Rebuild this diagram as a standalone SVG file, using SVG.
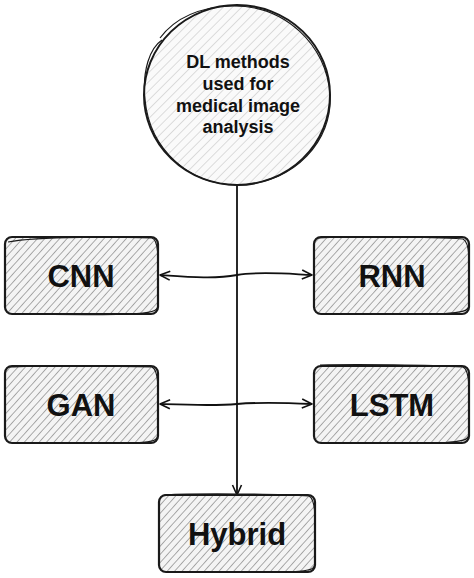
<svg xmlns="http://www.w3.org/2000/svg" width="474" height="578" viewBox="0 0 474 578">
<defs>
<pattern id="hatch" patternUnits="userSpaceOnUse" width="5.5" height="5.5" patternTransform="rotate(42)">
<rect width="5.5" height="5.5" fill="#f4f4f4"/>
<line x1="0" y1="0" x2="0" y2="5.5" stroke="#8a8a8a" stroke-width="1.4"/>
</pattern>
<pattern id="hatchc" patternUnits="userSpaceOnUse" width="6.5" height="6.5" patternTransform="rotate(45)">
<rect width="6.5" height="6.5" fill="#fafafa"/>
<line x1="0" y1="0" x2="0" y2="6.5" stroke="#bdbdbd" stroke-width="1"/>
</pattern>
<marker id="chev" viewBox="0 0 12 12" refX="11" refY="6" markerWidth="12" markerHeight="12" markerUnits="userSpaceOnUse" orient="auto-start-reverse">
<path d="M1,1.5 L11,6 L1,10.5" fill="none" stroke="#111" stroke-width="1.6" stroke-linejoin="round"/>
</marker>
</defs>
<style>
.box{fill:url(#hatch);stroke:#1a1a1a;stroke-width:2.2}
.sk{fill:none;stroke:#1a1a1a;stroke-width:1.2}
.lbl{font-family:"Liberation Sans",Arial,sans-serif;font-weight:bold;font-size:31px;fill:#111;text-anchor:middle}
.ctext{font-family:"Liberation Sans",Arial,sans-serif;font-weight:bold;font-size:18px;fill:#111;text-anchor:middle}
.conn{fill:none;stroke:#111;stroke-width:1.8}
</style>
<rect width="474" height="578" fill="#ffffff"/>
<g id="connectors">
<line class="conn" x1="237" y1="184" x2="237" y2="495" marker-end="url(#chev)"/>
<path class="conn" d="M160,275 C190,277 215,279 237,275 C260,271 290,274 312,275" marker-start="url(#chev)" marker-end="url(#chev)"/>
<path class="conn" d="M160,404 C190,405 215,406 237,404 C260,402 290,403 312,404" marker-start="url(#chev)" marker-end="url(#chev)"/>
</g>
<g id="root">
<ellipse cx="237" cy="95" rx="93" ry="90" fill="url(#hatchc)" stroke="#1a1a1a" stroke-width="2"/>
<path class="sk" d="M162,40 C150,48 142,70 145,100 C150,150 190,186 240,185 C295,183 333,140 330,95 C327,45 285,5 232,6 C200,7 175,18 160,38"/>
<text class="ctext" x="238" y="68">DL methods</text>
<text class="ctext" x="238" y="90">used for</text>
<text class="ctext" x="238" y="112">medical image</text>
<text class="ctext" x="238" y="133">analysis</text>
</g>
<g id="cnn">
<rect class="box" x="5" y="237" width="153" height="77" rx="7"/>
<path class="sk" d="M8,242 C40,236 120,237 152,238 C158,240 159,250 158,305 C158,314 150,316 12,314"/>
<text class="lbl" x="81" y="287">CNN</text>
</g>
<g id="rnn">
<rect class="box" x="314" y="237" width="155" height="77" rx="7"/>
<path class="sk" d="M318,238 C360,236 430,237 463,239 C470,242 470,260 469,306 C467,315 450,315 322,314"/>
<text class="lbl" x="392" y="287">RNN</text>
</g>
<g id="gan">
<rect class="box" x="5" y="366" width="153" height="77" rx="7"/>
<path class="sk" d="M9,367 C40,365 120,366 152,367 C158,370 159,380 158,435 C157,444 150,444 12,443"/>
<text class="lbl" x="81" y="416">GAN</text>
</g>
<g id="lstm">
<rect class="box" x="314" y="366" width="155" height="77" rx="7"/>
<path class="sk" d="M320,365 C360,364 430,365 463,367 C470,370 470,390 469,435 C467,444 450,444 322,443"/>
<text class="lbl" x="392" y="416">LSTM</text>
</g>
<g id="hybrid">
<rect class="box" x="159" y="495" width="156" height="77" rx="7"/>
<path class="sk" d="M164,495 C200,493 280,494 309,496 C315,499 316,510 315,564 C314,573 305,573 166,572"/>
<text class="lbl" x="237" y="545">Hybrid</text>
</g>
</svg>
